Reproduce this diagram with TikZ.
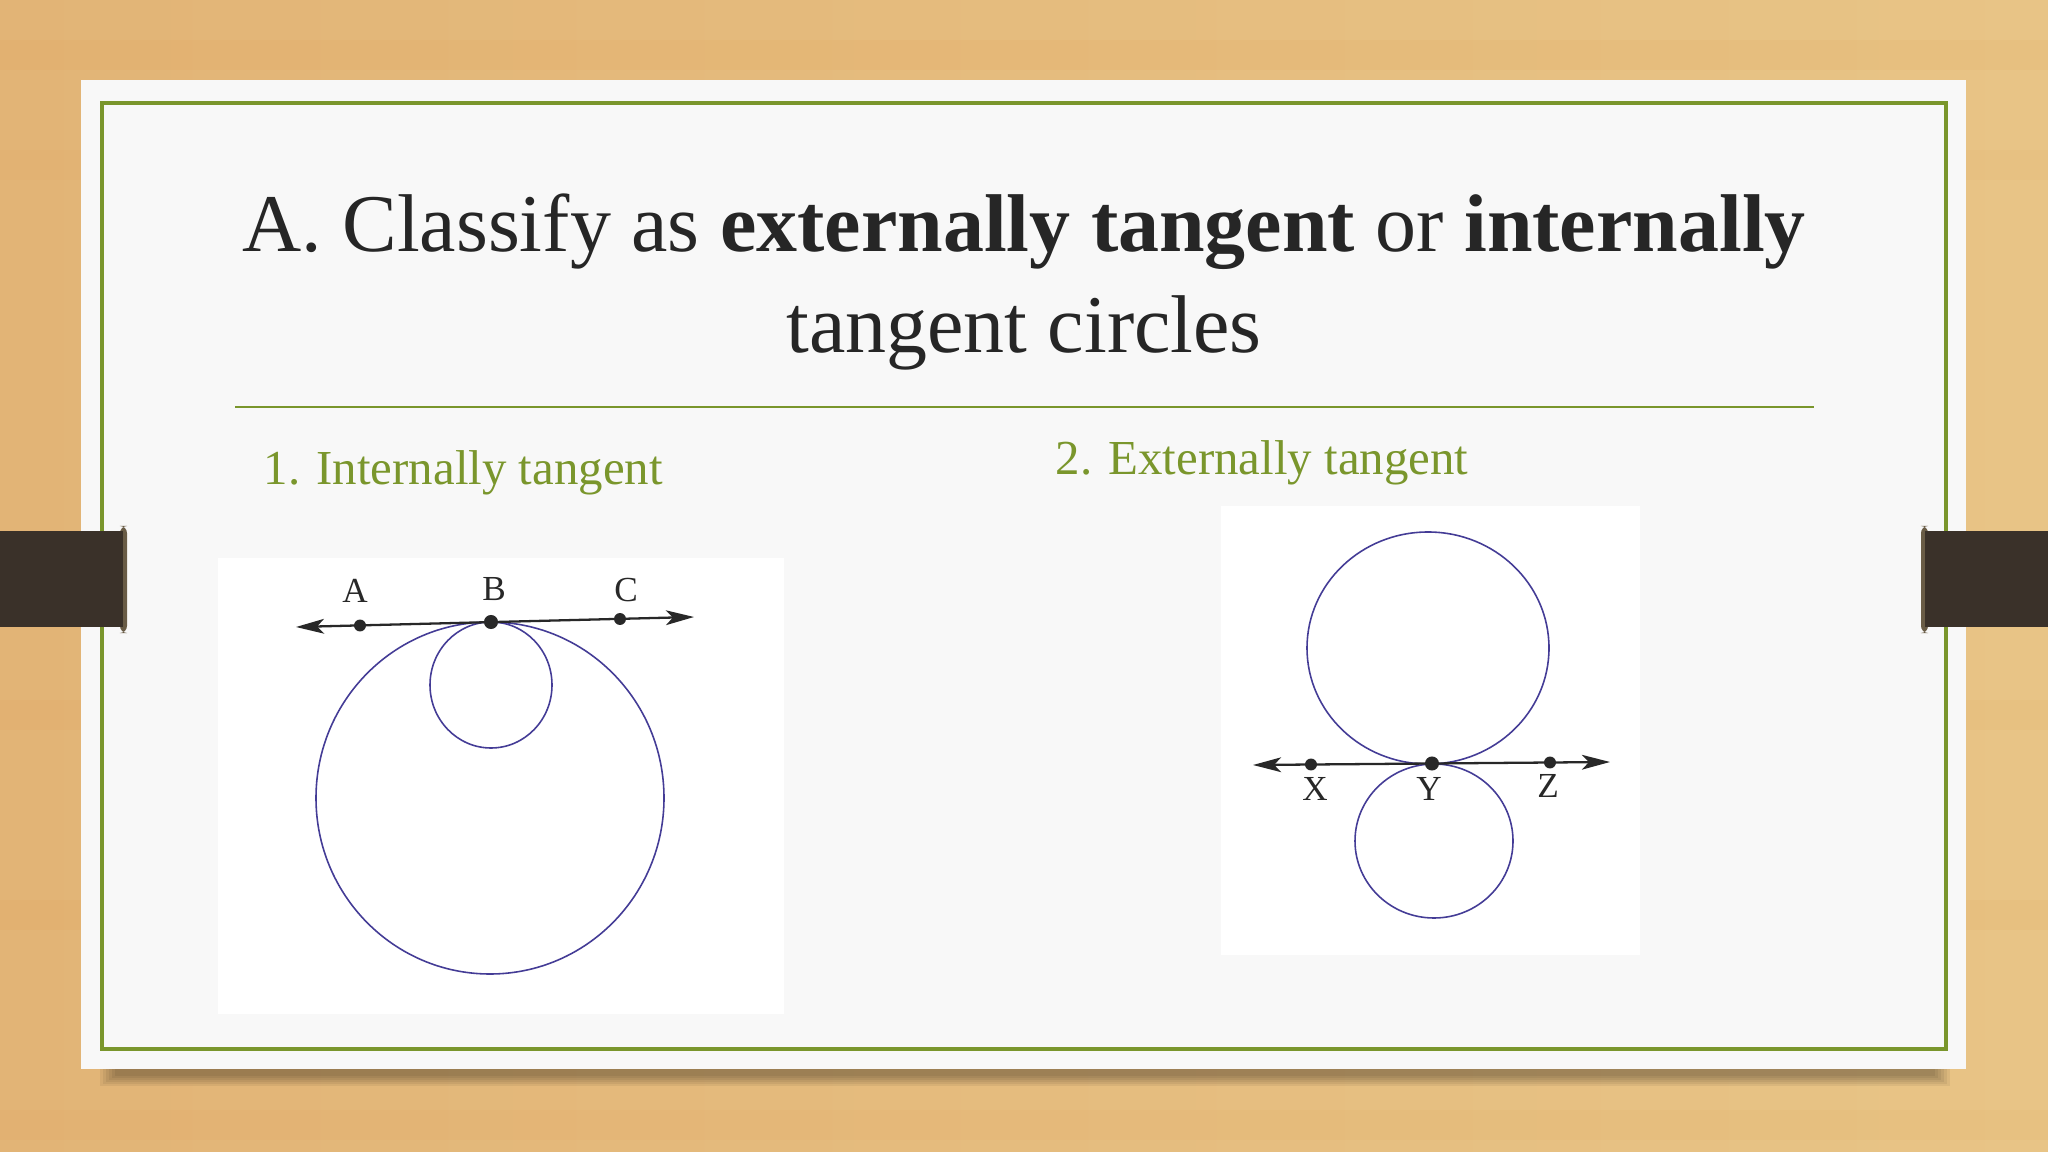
\documentclass[tikz,border=0pt]{standalone}
\usepackage{fontspec}
\setmainfont{Liberation Serif}
\usetikzlibrary{arrows.meta}
\definecolor{woodlight}{RGB}{238,210,156}
\definecolor{woodleft}{RGB}{226,180,118}
\definecolor{woodright}{RGB}{232,196,134}
\definecolor{paper}{RGB}{248,248,248}
\definecolor{olivegreen}{RGB}{122,150,44}
\definecolor{hanger}{RGB}{58,49,41}
\definecolor{hangerknob}{RGB}{105,92,70}
\definecolor{circleblue}{RGB}{68,60,150}
\definecolor{linegray}{RGB}{40,40,40}
\definecolor{titleink}{RGB}{38,38,38}

\tikzset{
  heading/.style={inner sep=0pt, text=titleink, font=\fontsize{23.3}{28}\selectfont},
  subhead/.style={inner sep=0pt, text=olivegreen, font=\fontsize{13.9}{17}\selectfont},
  ptlabel/.style={inner sep=0pt, text=linegray, font=\fontsize{10}{12}\selectfont},
  ptdot/.style={circle, fill=linegray, inner sep=0pt, minimum size=3.4pt},
  bigdot/.style={ptdot, minimum size=4pt},
  tangline/.style={linegray, line width=0.65pt,
    {Stealth[length=8pt,width=4.2pt,inset=2pt]}-{Stealth[length=8pt,width=4.2pt,inset=2pt]}},
  circ/.style={circleblue, line width=0.45pt}
}

\begin{document}
\begin{tikzpicture}[x=0.01cm,y=-0.01cm]
  \useasboundingbox (0,0) rectangle (2048,1152);

  % wooden table
  \shade[left color=woodleft, middle color=woodlight, right color=woodright] (0,0) rectangle (2048,1152);
  \foreach \y/\o in {40/0.05,150/0.03,700/0.04,900/0.05,1110/0.04}
    \fill[orange!60!brown, opacity=\o] (0,\y) rectangle (2048,\y+30);

  % slide paper with soft shadow
  \foreach \d in {0,...,5}
    \fill[black, opacity=0.06] (100+\d*3,90) rectangle (1950-\d*3,1086-\d*2);
  \fill[paper] (81,80) rectangle (1966,1069);
  \draw[olivegreen, line width=0.9pt] (102,103) rectangle (1946,1049);

  % hangers
  \fill[hangerknob, rounded corners=2pt] (120,526) rectangle (127,633);
  \fill[hanger] (0,531) rectangle (123,627);
  \fill[hangerknob, rounded corners=2pt] (1921,526) rectangle (1928,633);
  \fill[hanger] (1925,531) rectangle (2048,627);

  % title
  \node[heading, anchor=base] (head1) at (1024,252)
    {A. Classify as \textbf{externally tangent} or \textbf{internally}};
  \node[heading, anchor=base] (head2) at (1024,353) {tangent circles};
  \draw[olivegreen, line width=0.8pt] (235,407) -- (1814,407);

  \node[subhead, anchor=base west] (sub1) at (263,485) {1. Internally tangent};
  \node[subhead, anchor=base west] (sub2) at (1055,475) {2. Externally tangent};

  % internally tangent
  \fill[white] (218,558) rectangle (784,1014);
  \draw[circ] (490,798) ellipse [x radius=174, y radius=176];
  \draw[circ] (491,685) ellipse [x radius=61, y radius=63];
  \coordinate (endA) at (296,627);
  \coordinate (endC) at (694,617);
  \draw[tangline] (endA) -- (endC);
  \node[ptdot] (A) at (360,625.5) {};
  \node[bigdot] (B) at (491,622) {};
  \node[ptdot] (C) at (620,619) {};
  \node[ptlabel] (labA) at (355,591) {A};
  \node[ptlabel] (labB) at (494,589) {B};
  \node[ptlabel] (labC) at (626,590) {C};

  % externally tangent
  \fill[white] (1221,506) rectangle (1640,955);
  \draw[circ] (1428,648) ellipse [x radius=121, y radius=116];
  \draw[circ] (1434,841) ellipse [x radius=79, y radius=77];
  \coordinate (endX) at (1253,765);
  \coordinate (endZ) at (1610,762);
  \draw[tangline] (endX) -- (endZ);
  \node[ptdot] (X) at (1311,764.5) {};
  \node[bigdot] (Y) at (1432,763.5) {};
  \node[ptdot] (Z) at (1550,762.5) {};
  \node[ptlabel] (labX) at (1315,789) {X};
  \node[ptlabel] (labY) at (1429,789) {Y};
  \node[ptlabel] (labZ) at (1548,786) {Z};
\end{tikzpicture}
\end{document}
